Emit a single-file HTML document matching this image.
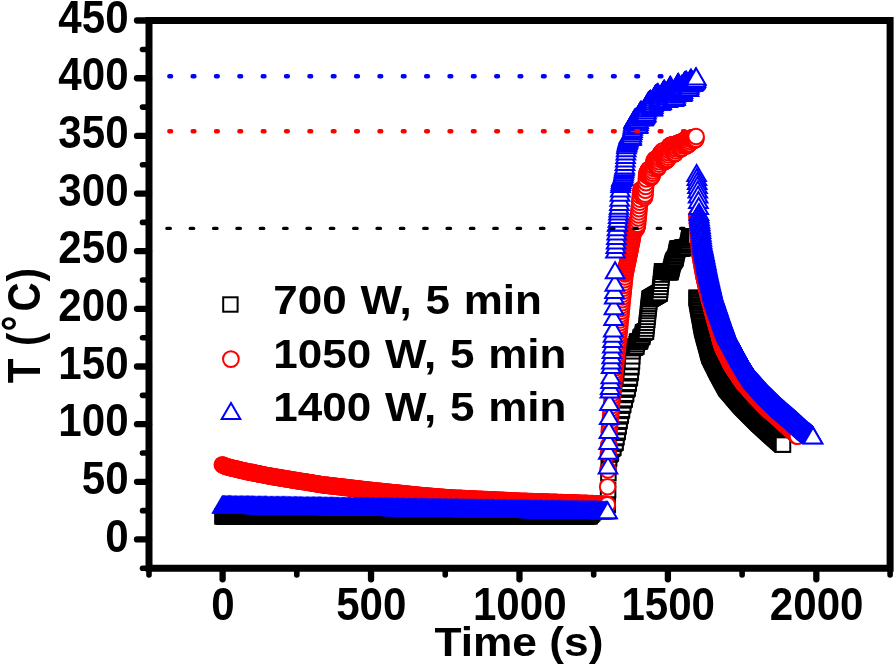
<!DOCTYPE html>
<html lang="en"><head><meta charset="utf-8"><title>Temperature vs Time</title>
<style>html,body{margin:0;padding:0;background:#fff;}body{width:896px;height:668px;overflow:hidden;}svg{display:block;}text{font-family:"Liberation Sans",Arial,Helvetica,sans-serif;font-weight:bold;fill:#000;}</style></head><body>
<svg width="896" height="668" viewBox="0 0 896 668">
<rect x="0" y="0" width="896" height="668" fill="#fff"/>
<defs>
<marker id="ms" markerUnits="userSpaceOnUse" markerWidth="20" markerHeight="20" refX="10" refY="10" overflow="visible"><rect x="2.75" y="2.75" width="14.5" height="14.5" fill="#fff" stroke="#000" stroke-width="2"/></marker>
<marker id="mc" markerUnits="userSpaceOnUse" markerWidth="20" markerHeight="20" refX="10" refY="10" overflow="visible"><circle cx="10" cy="10" r="7.8" fill="#fff" stroke="#f00" stroke-width="2"/></marker>
<marker id="mt" markerUnits="userSpaceOnUse" markerWidth="24" markerHeight="24" refX="12" refY="12" overflow="visible"><path d="M12 4 L21.3 20 L2.7 20 Z" fill="#fff" stroke="#00f" stroke-width="2" stroke-linejoin="miter"/></marker>
</defs>
<polyline points="222.4,516.4 223.6,516.4 224.8,516.4 226.0,516.4 227.2,516.4 228.4,516.4 229.6,516.4 230.8,516.4 232.0,516.4 233.2,516.4 234.4,516.4 235.6,516.4 236.8,516.4 238.0,516.4 239.2,516.4 240.4,516.4 241.6,516.4 242.8,516.4 244.0,516.4 245.2,516.4 246.4,516.4 247.6,516.4 248.8,516.4 250.0,516.4 251.2,516.4 252.4,516.4 253.6,516.4 254.8,516.4 256.0,516.4 257.2,516.4 258.4,516.4 259.6,516.4 260.8,516.4 262.0,516.4 263.2,516.4 264.4,516.4 265.6,516.4 266.8,516.4 268.0,516.4 269.2,516.4 270.4,516.4 271.6,516.4 272.8,516.4 274.0,516.4 275.2,516.4 276.4,516.4 277.6,516.4 278.8,516.4 280.0,516.4 281.2,516.4 282.4,516.4 283.6,516.4 284.8,516.4 286.0,516.4 287.2,516.4 288.4,516.4 289.6,516.4 290.8,516.4 292.0,516.4 293.2,516.4 294.4,516.4 295.6,516.4 296.8,516.4 298.0,516.4 299.2,516.4 300.4,516.4 301.6,516.4 302.8,516.4 304.0,516.4 305.2,516.4 306.4,516.4 307.6,516.4 308.8,516.4 310.0,516.4 311.2,516.4 312.4,516.4 313.6,516.4 314.8,516.4 316.0,516.4 317.2,516.4 318.4,516.4 319.6,516.4 320.8,516.4 322.0,516.4 323.2,516.4 324.4,516.4 325.6,516.4 326.8,516.4 328.0,516.4 329.2,516.4 330.4,516.4 331.6,516.4 332.8,516.4 334.0,516.4 335.2,516.4 336.4,516.4 337.6,516.4 338.8,516.4 340.0,516.4 341.2,516.4 342.4,516.4 343.6,516.4 344.8,516.4 346.0,516.4 347.2,516.4 348.4,516.4 349.6,516.4 350.8,516.4 352.0,516.4 353.2,516.4 354.4,516.4 355.6,516.4 356.8,516.4 358.0,516.4 359.2,516.4 360.4,516.4 361.6,516.4 362.8,516.4 364.0,516.4 365.2,516.4 366.4,516.4 367.6,516.4 368.8,516.4 370.0,516.4 371.2,516.4 372.4,516.4 373.6,516.4 374.8,516.4 376.0,516.4 377.2,516.4 378.4,516.4 379.6,516.4 380.8,516.4 382.0,516.4 383.2,516.4 384.4,516.4 385.6,516.4 386.8,516.4 388.0,516.4 389.2,516.4 390.4,516.4 391.6,516.4 392.8,516.4 394.0,516.4 395.2,516.4 396.4,516.4 397.6,516.4 398.8,516.4 400.0,516.4 401.2,516.4 402.4,516.4 403.6,516.4 404.8,516.4 406.0,516.4 407.2,516.4 408.4,516.4 409.6,516.4 410.8,516.4 412.0,516.4 413.2,516.4 414.5,516.4 415.7,516.4 416.9,516.4 418.1,516.4 419.3,516.4 420.5,516.4 421.7,516.4 422.9,516.4 424.1,516.4 425.3,516.4 426.5,516.4 427.7,516.4 428.9,516.4 430.1,516.4 431.3,516.4 432.5,516.4 433.7,516.4 434.9,516.4 436.1,516.4 437.3,516.4 438.5,516.4 439.7,516.4 440.9,516.4 442.1,516.4 443.3,516.4 444.5,516.4 445.7,516.4 446.9,516.4 448.1,516.4 449.3,516.4 450.5,516.4 451.7,516.4 452.9,516.4 454.1,516.4 455.3,516.4 456.5,516.4 457.7,516.4 458.9,516.4 460.1,516.4 461.3,516.4 462.5,516.4 463.7,516.4 464.9,516.4 466.1,516.4 467.3,516.4 468.5,516.4 469.7,516.4 470.9,516.4 472.1,516.4 473.3,516.4 474.5,516.4 475.7,516.4 476.9,516.4 478.1,516.4 479.3,516.4 480.5,516.4 481.7,516.4 482.9,516.4 484.1,516.4 485.3,516.4 486.5,516.4 487.7,516.4 488.9,516.4 490.1,516.4 491.3,516.4 492.5,516.4 493.7,516.4 494.9,516.4 496.1,516.4 497.3,516.4 498.5,516.4 499.7,516.4 500.9,516.4 502.1,516.4 503.3,516.4 504.5,516.4 505.7,516.4 506.9,516.4 508.1,516.4 509.3,516.4 510.5,516.4 511.7,516.4 512.9,516.4 514.1,516.4 515.3,516.4 516.5,516.4 517.7,516.4 518.9,516.4 520.1,516.4 521.3,516.4 522.5,516.4 523.7,516.4 524.9,516.4 526.1,516.4 527.3,516.4 528.5,516.4 529.7,516.4 530.9,516.4 532.1,516.4 533.3,516.4 534.5,516.4 535.7,516.4 536.9,516.4 538.1,516.4 539.3,516.4 540.5,516.4 541.7,516.4 542.9,516.4 544.1,516.4 545.3,516.4 546.5,516.4 547.7,516.4 548.9,516.4 550.1,516.4 551.3,516.4 552.5,516.4 553.7,516.4 554.9,516.4 556.1,516.4 557.3,516.4 558.5,516.4 559.7,516.4 560.9,516.4 562.1,516.4 563.3,516.4 564.5,516.4 565.7,516.4 566.9,516.4 568.1,516.4 569.3,516.4 570.5,516.4 571.7,516.4 572.9,516.4 574.1,516.4 575.3,516.4 576.5,516.4 577.7,516.4 578.9,516.4 580.1,516.4 581.3,516.4 582.5,516.4 583.7,516.4 584.9,516.4 586.1,516.4 587.3,516.4 588.5,516.4 589.7,516.2 590.9,514.8 592.1,513.5 593.3,512.1 594.5,510.8 595.7,510.8 596.9,510.7 598.1,510.7 599.3,510.7 600.5,510.7 601.7,510.6 602.9,510.6 604.1,510.6 605.3,510.5 606.5,510.5 607.8,505.0 608.1,490.0 608.4,473.0 608.8,458.7 609.1,458.4 609.4,454.4 609.7,454.1 610.0,453.9 610.3,453.6 610.6,453.3 610.9,453.1 611.2,449.0 611.5,448.7 611.8,448.5 612.1,448.3 612.4,448.1 612.7,447.9 613.0,447.7 613.3,447.5 613.7,443.5 614.0,443.3 614.3,443.1 614.6,442.9 614.9,442.7 615.2,442.5 615.5,442.3 615.8,438.0 616.1,437.5 616.4,437.0 616.8,432.8 617.1,432.3 617.4,431.8 617.7,431.3 618.0,427.0 618.3,426.5 618.6,426.0 618.9,421.7 619.2,421.2 619.6,420.7 619.9,416.4 620.2,415.9 620.5,415.4 620.8,415.0 621.1,410.9 621.4,410.5 621.7,410.1 622.0,409.8 622.3,405.6 622.6,405.2 622.9,404.9 623.2,404.5 623.5,400.3 623.8,400.0 624.1,399.7 624.4,399.4 624.7,399.1 625.0,395.0 625.2,394.7 625.5,394.3 625.8,394.0 626.1,393.7 626.4,389.6 626.7,389.3 627.0,389.0 627.3,388.6 627.6,388.2 627.9,384.0 628.2,383.6 628.5,383.2 628.7,382.8 629.0,378.7 629.3,378.3 629.6,377.9 629.9,377.5 630.2,373.3 630.5,372.6 630.8,371.8 631.1,367.3 631.4,366.5 631.7,362.0 632.0,361.3 632.3,356.3 632.5,351.3 632.8,348.0 633.1,347.9 633.4,347.8 633.7,347.6 634.0,347.5 634.3,347.4 634.5,347.2 634.8,347.1 635.1,347.0 635.4,346.9 635.7,346.8 636.0,346.6 636.3,346.5 636.6,344.2 637.0,342.0 637.3,341.9 637.6,341.8 637.9,341.7 638.2,341.6 638.5,341.5 638.8,341.4 639.1,341.3 639.4,341.2 639.7,341.1 640.0,341.0 640.3,339.8 640.5,338.7 640.8,337.5 641.1,337.3 641.4,337.1 641.7,336.9 642.0,336.7 642.3,336.5 642.6,334.5 643.0,332.5 643.3,332.4 643.6,332.3 643.9,332.2 644.2,332.1 644.5,332.0 644.8,331.9 645.1,331.8 645.4,331.7 645.7,331.6 646.0,331.5 646.3,328.6 646.6,325.6 646.9,322.7 647.3,319.8 647.6,316.9 647.9,313.9 648.2,311.0 648.5,308.6 648.8,306.2 649.0,303.8 649.3,301.4 649.6,299.0 649.9,298.8 650.2,298.6 650.5,298.5 650.8,298.3 651.1,298.1 651.4,297.9 651.7,297.8 652.0,297.6 652.3,297.4 652.6,297.2 652.9,297.1 653.2,296.9 653.5,296.7 653.8,296.5 654.1,296.4 654.4,296.2 654.7,296.0 655.0,295.8 655.3,295.6 655.6,295.5 655.9,295.3 656.2,295.1 656.5,294.9 656.8,294.8 657.1,294.6 657.4,294.4 657.7,294.2 658.0,294.1 658.3,293.9 658.6,293.7 658.9,293.5 659.2,293.4 659.5,293.2 659.8,293.0 660.1,289.9 660.4,286.9 660.7,283.8 661.1,280.7 661.4,277.6 661.7,274.6 662.0,271.5 662.3,271.5 662.6,271.5 662.9,271.6 663.2,271.6 663.5,271.6 663.8,271.6 664.1,271.6 664.4,271.6 664.7,271.7 665.0,271.7 665.3,271.7 665.6,271.7 665.9,271.7 666.2,271.8 666.5,271.8 666.8,271.8 667.1,271.8 667.4,271.8 667.7,271.8 668.0,271.9 668.3,271.9 668.6,271.9 668.9,271.9 669.2,271.9 669.5,271.9 669.8,272.0 670.1,272.0 670.4,272.0 670.7,270.9 671.0,269.8 671.3,268.7 671.6,267.6 671.8,266.4 672.1,265.3 672.4,264.2 672.7,263.1 673.0,262.0 673.3,261.5 673.6,261.0 673.9,260.5 674.2,260.0 674.6,259.5 674.9,259.0 675.2,258.5 675.5,258.0 675.8,256.5 676.1,255.0 676.4,253.5 676.7,252.0 677.0,250.5 677.3,249.0 677.6,248.9 677.9,248.9 678.2,248.8 678.5,248.8 678.8,248.7 679.1,248.6 679.4,248.6 679.7,248.5 680.0,248.5 680.3,248.4 680.6,248.4 680.9,248.3 681.2,248.2 681.5,248.2 681.8,248.1 682.1,248.1 682.4,248.0 682.7,247.9 683.0,247.9 683.3,247.8 683.6,247.8 683.9,247.7 684.2,247.6 684.5,247.6 684.8,247.5 685.1,247.5 685.4,247.4 685.7,247.4 686.0,247.3 686.3,247.2 686.6,247.2 686.9,247.1 687.2,247.1 687.5,247.0 687.8,245.3 688.1,243.7 688.5,242.0 688.8,240.3 689.1,238.7 689.4,237.0 689.7,237.0 690.0,237.0 690.3,236.9 690.6,236.9 690.9,236.9 691.2,236.9 691.5,236.8 691.8,236.8 692.1,236.8 692.4,236.8 692.7,236.7 693.0,236.7 693.3,236.7 693.6,236.7 693.9,236.6 694.2,236.6 694.5,236.6 694.8,236.6 695.1,236.5 695.4,236.5 695.7,236.5 696.5,297.6 696.8,299.2 697.1,300.8 697.4,302.4 697.7,304.0 697.9,305.6 698.2,307.2 698.5,308.8 698.8,310.4 699.1,312.0 699.4,313.6 699.7,315.2 700.0,316.8 700.3,318.4 700.6,320.0 700.8,321.6 701.1,323.2 701.4,324.8 701.7,326.4 702.0,328.0 702.3,329.1 702.6,330.2 702.9,331.2 703.2,332.3 703.5,333.4 703.8,334.5 704.0,335.6 704.3,336.6 704.6,337.7 704.9,338.8 705.2,339.9 705.5,341.0 705.8,342.0 706.1,343.1 706.4,344.2 706.7,345.3 707.0,346.4 707.3,347.4 707.5,348.5 707.8,349.6 708.1,350.7 708.4,351.8 708.7,352.8 709.0,353.9 709.3,355.0 709.6,355.6 709.9,356.2 710.2,356.8 710.5,357.4 710.8,357.9 711.1,358.5 711.3,359.1 711.6,359.7 711.9,360.3 712.2,360.9 712.5,361.5 712.8,362.1 713.1,362.7 713.4,363.2 713.7,363.8 714.0,364.4 714.3,365.0 714.6,365.6 714.9,366.2 715.2,366.8 715.5,367.4 715.7,368.0 716.0,368.6 716.3,369.1 716.6,369.7 716.9,370.3 717.2,370.9 717.5,371.5 717.8,372.1 718.1,372.6 718.4,373.1 718.7,373.7 719.0,374.2 719.3,374.8 719.6,375.4 719.9,375.9 720.2,376.4 720.5,377.0 720.8,377.6 721.1,378.1 721.4,378.6 721.7,379.2 722.0,379.8 722.3,380.3 722.6,380.9 722.9,381.4 723.2,381.9 723.5,382.5 723.8,383.1 724.1,383.6 724.4,384.1 724.7,384.7 725.0,385.2 725.3,385.8 725.6,386.4 725.9,386.9 726.2,387.4 726.5,388.0 726.8,388.3 727.1,388.7 727.4,389.0 727.7,389.4 728.0,389.7 728.3,390.1 728.6,390.4 728.9,390.8 729.2,391.1 729.5,391.5 729.8,391.8 730.1,392.2 730.4,392.5 730.7,392.8 731.0,393.2 731.3,393.5 731.6,393.9 731.9,394.2 732.2,394.6 732.5,394.9 732.8,395.3 733.1,395.6 733.4,396.0 733.7,396.3 734.0,396.7 734.2,397.0 734.5,397.3 734.8,397.7 735.1,398.0 735.4,398.4 735.7,398.7 736.0,399.1 736.3,399.4 736.6,399.8 736.9,400.1 737.2,400.5 737.5,400.8 737.8,401.2 738.1,401.5 738.4,401.8 738.7,402.2 739.0,402.5 739.3,402.9 739.6,403.2 739.9,403.6 740.2,403.9 740.5,404.3 740.8,404.6 741.1,405.0 741.4,405.3 741.7,405.7 742.0,406.0 742.3,406.3 742.6,406.6 742.9,406.9 743.2,407.2 743.5,407.5 743.8,407.8 744.1,408.1 744.4,408.4 744.7,408.7 745.0,409.0 745.3,409.3 745.6,409.6 745.9,409.9 746.2,410.2 746.5,410.5 746.8,410.8 747.1,411.1 747.4,411.4 747.7,411.7 748.0,412.0 748.3,412.3 748.6,412.6 748.9,412.9 749.2,413.2 749.5,413.5 749.8,413.8 750.1,414.1 750.4,414.4 750.6,414.6 750.9,414.9 751.2,415.2 751.5,415.5 751.8,415.8 752.1,416.1 752.4,416.4 752.7,416.7 753.0,417.0 753.3,417.3 753.6,417.6 753.9,417.9 754.2,418.2 754.5,418.5 754.8,418.8 755.1,419.1 755.4,419.4 755.7,419.7 756.0,420.0 756.3,420.3 756.6,420.6 756.9,420.9 757.2,421.2 757.5,421.5 757.8,421.8 758.1,422.1 758.4,422.4 758.7,422.7 759.0,423.0 759.3,423.3 759.6,423.6 759.9,423.8 760.2,424.1 760.5,424.4 760.8,424.6 761.1,424.9 761.4,425.2 761.7,425.5 762.0,425.8 762.3,426.0 762.6,426.3 762.9,426.6 763.2,426.9 763.5,427.1 763.8,427.4 764.1,427.7 764.4,427.9 764.7,428.2 765.0,428.5 765.3,428.8 765.6,429.1 765.9,429.3 766.2,429.6 766.5,429.9 766.8,430.1 767.1,430.4 767.4,430.7 767.7,431.0 768.0,431.2 768.3,431.5 768.6,431.8 768.9,432.1 769.2,432.4 769.5,432.6 769.8,432.9 770.1,433.2 770.4,433.4 770.7,433.7 771.0,434.0 771.3,434.3 771.6,434.5 771.9,434.8 772.2,435.1 772.5,435.3 772.8,435.6 773.1,435.9 773.4,436.1 773.7,436.4 774.0,436.6 774.3,436.9 774.6,437.2 774.9,437.4 775.2,437.7 775.5,438.0 775.8,438.2 776.1,438.5 776.4,438.8 776.7,439.0 777.0,439.3 777.3,439.6 777.6,439.8 777.9,440.1 778.2,440.4 778.5,440.6 778.8,440.9 779.1,441.2 779.4,441.4 779.7,441.7 780.0,442.0 780.3,442.2 780.6,442.5 780.9,442.7 781.2,443.0 781.5,443.3 781.8,443.5 782.1,443.8 782.4,444.1 782.7,444.3 783.0,444.6" fill="none" stroke="none" marker-start="url(#ms)" marker-mid="url(#ms)" marker-end="url(#ms)"/>
<polyline points="222.3,464.8 223.5,465.4 224.7,465.9 225.9,466.5 227.1,466.8 228.3,467.1 229.5,467.4 230.7,467.7 231.9,468.0 233.1,468.3 234.3,468.6 235.5,468.8 236.7,469.1 237.9,469.4 239.1,469.7 240.3,470.0 241.5,470.3 242.7,470.6 243.9,470.8 245.1,471.1 246.3,471.4 247.5,471.7 248.7,471.9 250.0,472.2 251.2,472.4 252.4,472.6 253.6,472.9 254.8,473.1 256.0,473.3 257.2,473.6 258.4,473.8 259.6,474.1 260.8,474.3 262.0,474.5 263.2,474.8 264.4,475.0 265.6,475.2 266.8,475.5 268.0,475.7 269.2,475.9 270.4,476.2 271.6,476.4 272.8,476.6 274.0,476.8 275.2,477.0 276.4,477.2 277.6,477.4 278.8,477.6 280.0,477.8 281.2,478.0 282.4,478.2 283.6,478.4 284.8,478.6 286.0,478.8 287.2,479.0 288.4,479.2 289.6,479.4 290.8,479.6 292.0,479.8 293.2,480.0 294.4,480.2 295.6,480.4 296.8,480.6 298.0,480.8 299.2,481.0 300.4,481.2 301.6,481.4 302.8,481.5 304.0,481.7 305.3,481.9 306.5,482.1 307.7,482.3 308.9,482.5 310.1,482.7 311.3,482.9 312.5,483.1 313.7,483.3 314.9,483.5 316.1,483.7 317.3,483.9 318.5,484.1 319.7,484.3 320.9,484.5 322.1,484.7 323.3,484.9 324.5,485.0 325.7,485.1 326.9,485.3 328.1,485.4 329.3,485.6 330.5,485.7 331.7,485.8 332.9,486.0 334.1,486.1 335.3,486.3 336.5,486.4 337.7,486.5 338.9,486.7 340.1,486.8 341.3,486.9 342.5,487.1 343.7,487.2 344.9,487.4 346.1,487.5 347.3,487.6 348.5,487.8 349.7,487.9 350.9,488.1 352.1,488.2 353.3,488.3 354.5,488.5 355.7,488.6 356.9,488.8 358.1,488.9 359.3,489.0 360.6,489.2 361.8,489.3 363.0,489.5 364.2,489.6 365.4,489.7 366.6,489.9 367.8,490.0 369.0,490.2 370.2,490.3 371.4,490.4 372.6,490.6 373.8,490.7 375.0,490.8 376.2,490.9 377.4,491.1 378.6,491.2 379.8,491.3 381.0,491.4 382.2,491.5 383.4,491.7 384.6,491.8 385.8,491.9 387.0,492.0 388.2,492.2 389.4,492.3 390.6,492.4 391.8,492.5 393.0,492.7 394.2,492.8 395.4,492.9 396.6,493.0 397.8,493.1 399.0,493.3 400.2,493.4 401.4,493.5 402.6,493.6 403.8,493.8 405.0,493.9 406.2,494.0 407.4,494.1 408.6,494.2 409.8,494.4 411.0,494.5 412.2,494.6 413.4,494.7 414.6,494.9 415.9,495.0 417.1,495.1 418.3,495.2 419.5,495.3 420.7,495.5 421.9,495.6 423.1,495.7 424.3,495.8 425.5,495.9 426.7,496.0 427.9,496.1 429.1,496.2 430.3,496.3 431.5,496.4 432.7,496.5 433.9,496.6 435.1,496.7 436.3,496.8 437.5,496.9 438.7,497.0 439.9,497.1 441.1,497.2 442.3,497.3 443.5,497.4 444.7,497.5 445.9,497.6 447.1,497.7 448.3,497.8 449.5,497.9 450.7,497.9 451.9,498.0 453.1,498.0 454.3,498.1 455.5,498.2 456.7,498.2 457.9,498.3 459.1,498.3 460.3,498.4 461.5,498.4 462.7,498.5 463.9,498.6 465.1,498.6 466.3,498.7 467.5,498.7 468.7,498.8 470.0,498.8 471.2,498.9 472.4,499.0 473.6,499.0 474.8,499.1 476.0,499.1 477.2,499.2 478.4,499.2 479.6,499.3 480.8,499.3 482.0,499.4 483.2,499.5 484.4,499.5 485.6,499.6 486.8,499.6 488.0,499.7 489.2,499.7 490.4,499.8 491.6,499.9 492.8,499.9 494.0,500.0 495.2,500.0 496.4,500.1 497.6,500.1 498.8,500.2 500.0,500.3 501.2,500.3 502.4,500.4 503.6,500.4 504.8,500.5 506.0,500.5 507.2,500.6 508.4,500.7 509.6,500.7 510.8,500.8 512.0,500.8 513.2,500.9 514.4,500.9 515.6,501.0 516.8,501.1 518.0,501.1 519.2,501.2 520.4,501.2 521.6,501.3 522.8,501.3 524.0,501.3 525.3,501.4 526.5,501.4 527.7,501.5 528.9,501.5 530.1,501.5 531.3,501.6 532.5,501.6 533.7,501.7 534.9,501.7 536.1,501.7 537.3,501.8 538.5,501.8 539.7,501.9 540.9,501.9 542.1,501.9 543.3,502.0 544.5,502.0 545.7,502.1 546.9,502.1 548.1,502.1 549.3,502.2 550.5,502.2 551.7,502.3 552.9,502.3 554.1,502.3 555.3,502.4 556.5,502.4 557.7,502.5 558.9,502.5 560.1,502.5 561.3,502.6 562.5,502.6 563.7,502.7 564.9,502.7 566.1,502.7 567.3,502.8 568.5,502.8 569.7,502.9 570.9,502.9 572.1,502.9 573.3,503.0 574.5,503.0 575.7,503.1 576.9,503.1 578.1,503.1 579.3,503.2 580.6,503.2 581.8,503.3 583.0,503.3 584.2,503.3 585.4,503.4 586.6,503.4 587.8,503.5 589.0,503.5 590.2,503.5 591.4,503.6 592.6,503.6 593.8,503.7 595.0,503.7 596.2,503.7 597.4,503.8 598.6,503.8 599.8,503.9 601.0,504.0 602.2,504.1 603.4,504.2 604.6,504.2 605.8,504.3 607.0,504.4 607.3,504.7 607.6,486.7 608.0,470.0 608.4,454.0 608.8,445.0 609.2,432.0 609.5,428.0 609.8,424.8 610.1,421.7 610.4,418.5 610.7,415.3 611.0,412.2 611.2,409.0 611.5,405.8 611.8,402.7 612.1,399.5 612.4,396.3 612.7,393.2 613.0,390.0 613.3,387.2 613.6,384.4 613.9,381.7 614.2,378.9 614.5,376.1 614.8,373.3 615.1,370.6 615.4,367.8 615.6,365.0 615.9,362.2 616.2,359.4 616.5,356.7 616.8,353.9 617.1,351.1 617.4,348.3 617.7,345.6 618.0,342.8 618.3,340.0 618.6,337.1 618.9,334.3 619.2,331.4 619.5,328.5 619.8,325.7 620.1,322.8 620.4,319.9 620.7,317.0 621.0,314.2 621.3,311.3 621.6,308.4 621.8,305.6 622.1,302.7 622.4,299.8 622.7,297.0 623.0,294.1 623.3,291.2 623.6,288.3 623.9,285.5 624.2,282.6 624.5,279.7 624.8,276.9 625.1,274.0 625.4,272.5 625.7,271.0 626.0,269.6 626.3,268.1 626.6,266.6 626.9,265.1 627.2,263.7 627.5,262.2 627.8,260.7 628.1,259.2 628.4,257.7 628.7,256.3 629.0,254.8 629.3,253.3 629.6,251.8 629.9,250.3 630.2,248.9 630.5,247.4 630.8,245.9 631.1,244.4 631.4,243.0 631.7,241.5 632.0,240.0 632.0,238.6 632.3,237.2 632.6,235.9 632.9,234.6 633.2,233.3 633.5,232.0 633.8,230.6 634.1,229.3 634.4,228.0 634.7,226.1 635.0,223.8 635.3,225.1 635.6,226.3 635.9,227.3 636.2,228.2 636.5,228.9 636.8,227.7 637.0,226.5 637.3,225.3 637.6,224.2 637.9,221.1 638.2,218.0 638.5,215.0 638.8,211.9 639.1,208.7 639.4,205.5 639.7,202.3 640.0,199.1 640.3,195.9 640.6,192.7 640.9,189.5 641.2,190.3 641.5,191.1 641.8,191.9 642.1,192.7 642.4,193.5 642.7,194.3 643.0,195.1 643.3,195.9 643.6,196.7 643.9,197.3 644.2,197.5 644.5,197.6 644.8,195.9 645.1,194.1 645.4,190.3 645.7,186.5 646.0,182.8 646.3,179.0 646.6,175.2 646.9,173.3 647.1,172.8 647.4,172.2 647.7,171.6 648.0,171.1 648.3,170.5 648.6,169.9 648.9,169.3 649.2,170.9 649.5,172.5 649.8,174.1 650.1,175.7 650.4,177.2 650.7,177.8 651.0,177.4 651.3,177.0 651.6,176.5 651.9,176.1 652.2,175.7 652.5,173.3 652.8,170.9 653.1,168.4 653.4,166.0 653.7,163.6 654.0,161.2 654.3,160.4 654.6,160.1 654.9,159.7 655.2,159.3 655.5,158.9 655.8,160.5 656.1,162.1 656.4,163.7 656.7,165.2 656.9,166.8 657.2,168.4 657.5,168.2 657.8,167.8 658.1,167.3 658.4,166.9 658.7,166.5 659.0,164.1 659.3,161.7 659.6,159.3 659.9,157.1 660.2,154.9 660.5,153.7 660.8,153.4 661.1,153.0 661.4,152.6 661.7,152.3 662.0,151.9 662.3,151.6 662.6,151.2 662.9,150.8 663.2,152.6 663.5,154.4 663.8,156.2 664.1,157.9 664.4,159.7 664.7,161.5 665.0,161.4 665.3,161.1 665.6,160.9 665.9,160.7 666.2,160.5 666.5,160.2 666.7,160.0 667.0,159.8 667.3,159.6 667.6,159.3 667.9,157.1 668.2,154.9 668.5,152.7 668.8,150.4 669.1,148.2 669.4,146.0 669.7,145.9 670.0,145.8 670.3,145.6 670.6,145.5 670.9,145.4 671.2,145.2 671.5,145.1 671.8,145.0 672.1,144.9 672.4,144.7 672.7,146.5 673.0,148.3 673.3,150.0 673.6,151.8 673.9,153.6 674.2,154.0 674.5,153.8 674.8,153.6 675.1,153.3 675.4,153.1 675.7,150.9 676.0,148.7 676.3,146.5 676.6,144.3 676.8,143.8 677.1,143.7 677.4,143.5 677.7,143.4 678.0,143.3 678.3,143.1 678.6,143.0 678.9,142.8 679.2,142.7 679.5,144.5 679.8,146.3 680.1,148.1 680.4,149.1 680.7,148.9 681.0,148.7 681.3,148.5 681.6,148.3 681.9,148.1 682.2,147.9 682.5,145.7 682.8,143.5 683.1,141.3 683.4,140.7 683.7,140.6 684.0,140.5 684.3,140.4 684.6,140.3 684.9,140.2 685.2,142.0 685.5,143.8 685.8,145.6 686.1,146.0 686.4,145.8 686.6,145.6 686.9,145.4 687.2,145.2 687.5,145.0 687.8,144.8 688.1,144.6 688.4,144.4 688.7,144.1 689.0,143.9 689.3,143.7 689.6,141.5 689.9,139.3 690.2,138.5 690.5,138.4 690.8,138.3 691.1,138.2 691.4,138.1 691.7,138.0 692.0,137.9 692.3,137.8 692.6,137.7 692.9,137.6 693.2,137.6 693.5,137.5 693.8,139.2 694.1,140.4 694.4,140.1 694.7,139.9 695.0,139.7 695.3,139.5 695.6,139.3 695.9,139.1 696.1,136.5 696.8,216.0 697.1,220.0 697.4,224.0 697.7,228.0 698.0,232.0 698.3,236.0 698.6,240.0 698.9,244.0 699.2,248.0 699.5,252.0 699.8,253.7 700.1,255.3 700.4,257.0 700.7,258.7 701.0,260.3 701.3,262.0 701.6,263.7 701.9,265.3 702.2,267.0 702.5,268.7 702.8,270.3 703.1,272.0 703.4,273.7 703.7,275.3 704.0,277.0 704.3,278.3 704.6,279.5 704.9,280.8 705.2,282.1 705.5,283.3 705.8,284.6 706.1,285.9 706.4,287.1 706.6,288.4 706.9,289.6 707.2,290.9 707.5,292.2 707.8,293.4 708.1,294.7 708.4,296.0 708.7,297.2 709.0,298.5 709.3,299.6 709.6,300.7 709.9,301.8 710.2,302.8 710.5,303.9 710.8,305.0 711.1,306.1 711.4,307.2 711.7,308.3 712.0,309.4 712.3,310.5 712.5,311.5 712.8,312.6 713.1,313.7 713.4,314.8 713.7,315.9 714.0,317.0 714.3,318.1 714.6,319.2 714.9,320.2 715.2,321.3 715.5,322.4 715.8,323.5 716.1,324.6 716.4,325.6 716.7,326.7 717.0,327.7 717.3,328.8 717.6,329.9 717.9,330.9 718.2,332.0 718.5,333.0 718.8,334.1 719.0,335.1 719.3,336.2 719.6,337.3 719.9,338.3 720.2,339.4 720.5,340.4 720.8,341.5 721.1,342.6 721.4,343.6 721.7,344.7 722.0,345.7 722.3,346.8 722.6,347.4 722.9,348.0 723.2,348.6 723.5,349.2 723.8,349.8 724.1,350.4 724.4,351.0 724.6,351.6 724.9,352.2 725.2,352.8 725.5,353.4 725.8,354.0 726.1,354.6 726.4,355.2 726.7,355.8 727.0,356.3 727.3,356.9 727.6,357.5 727.9,358.1 728.2,358.7 728.5,359.3 728.8,359.9 729.1,360.5 729.3,361.1 729.6,361.7 729.9,362.3 730.2,362.9 730.5,363.5 730.8,364.1 731.1,364.7 731.4,365.3 731.7,365.8 732.0,366.2 732.3,366.7 732.6,367.1 732.9,367.6 733.2,368.0 733.5,368.5 733.8,368.9 734.1,369.4 734.4,369.8 734.7,370.3 735.0,370.7 735.3,371.2 735.6,371.6 735.9,372.1 736.2,372.5 736.5,373.0 736.8,373.4 737.1,373.9 737.4,374.3 737.7,374.8 738.0,375.2 738.3,375.7 738.6,376.1 738.9,376.6 739.2,377.0 739.5,377.5 739.8,377.9 740.1,378.4 740.4,378.8 740.7,379.3 741.0,379.7 741.3,380.2 741.6,380.6 741.9,381.1 742.2,381.5 742.5,382.0 742.8,382.3 743.1,382.7 743.4,383.0 743.7,383.4 744.0,383.7 744.3,384.0 744.6,384.4 744.9,384.7 745.2,385.0 745.5,385.4 745.8,385.7 746.1,386.1 746.4,386.4 746.7,386.7 747.0,387.1 747.3,387.4 747.6,387.8 747.9,388.1 748.2,388.4 748.5,388.8 748.8,389.1 749.0,389.4 749.3,389.8 749.6,390.1 749.9,390.5 750.2,390.8 750.5,391.1 750.8,391.5 751.1,391.8 751.4,392.2 751.7,392.5 752.0,392.8 752.3,393.2 752.6,393.5 752.9,393.9 753.2,394.2 753.5,394.5 753.8,394.9 754.1,395.2 754.4,395.5 754.7,395.9 755.0,396.2 755.3,396.6 755.6,396.9 755.9,397.2 756.2,397.5 756.5,397.8 756.8,398.1 757.1,398.4 757.4,398.7 757.7,399.0 758.0,399.3 758.3,399.6 758.6,399.9 758.9,400.2 759.2,400.5 759.5,400.8 759.8,401.1 760.1,401.4 760.4,401.7 760.7,402.0 761.0,402.3 761.3,402.6 761.6,402.9 761.9,403.2 762.2,403.5 762.5,403.9 762.8,404.2 763.1,404.5 763.4,404.8 763.7,405.1 764.0,405.4 764.3,405.7 764.6,406.0 764.9,406.3 765.2,406.6 765.5,406.9 765.8,407.2 766.1,407.5 766.4,407.8 766.7,408.1 767.0,408.4 767.3,408.7 767.6,409.0 767.9,409.3 768.2,409.6 768.5,409.9 768.8,410.2 769.1,410.5 769.4,410.7 769.7,411.0 770.0,411.2 770.3,411.5 770.6,411.7 770.9,412.0 771.2,412.3 771.5,412.5 771.8,412.8 772.1,413.0 772.4,413.3 772.7,413.5 773.0,413.8 773.3,414.0 773.6,414.3 773.9,414.6 774.2,414.8 774.5,415.1 774.8,415.3 775.1,415.6 775.4,415.8 775.6,416.1 775.9,416.4 776.2,416.6 776.5,416.9 776.8,417.1 777.1,417.4 777.4,417.6 777.7,417.9 778.0,418.2 778.3,418.4 778.6,418.7 778.9,418.9 779.2,419.2 779.5,419.4 779.8,419.7 780.1,419.9 780.4,420.2 780.7,420.5 781.0,420.7 781.3,421.0 781.6,421.2 781.9,421.5 782.2,421.7 782.5,422.0 782.8,422.3 783.1,422.6 783.4,422.8 783.7,423.1 784.0,423.4 784.3,423.7 784.6,424.0 784.9,424.2 785.1,424.5 785.4,424.8 785.7,425.1 786.0,425.4 786.3,425.6 786.6,425.9 786.9,426.2 787.2,426.5 787.5,426.8 787.8,427.0 788.1,427.3 788.4,427.6 788.7,427.9 789.0,428.2 789.3,428.4 789.6,428.7 789.9,429.0 790.1,429.3 790.4,429.6 790.7,429.9 791.0,430.1 791.3,430.4 791.6,430.7 791.9,431.0 792.2,431.3 792.5,431.5 792.8,431.8 793.1,432.1 793.4,432.4 793.7,432.7 794.0,432.9 794.3,433.2 794.6,433.5 794.9,433.8 795.1,434.1 795.4,434.3 795.7,434.6 796.0,434.9 796.3,435.2 796.6,435.5 796.9,435.7 797.2,436.0 797.5,436.3" fill="none" stroke="none" marker-start="url(#mc)" marker-mid="url(#mc)" marker-end="url(#mc)"/>
<polyline points="222.3,504.7 223.5,504.7 224.7,504.7 225.9,504.8 227.1,504.8 228.3,504.8 229.5,504.8 230.7,504.8 231.9,504.8 233.1,504.9 234.3,504.9 235.5,504.9 236.7,504.9 237.9,504.9 239.1,504.9 240.3,505.0 241.5,505.0 242.7,505.0 243.9,505.0 245.1,505.0 246.3,505.0 247.5,505.1 248.7,505.1 249.9,505.1 251.1,505.1 252.3,505.1 253.5,505.2 254.7,505.2 255.9,505.2 257.1,505.2 258.3,505.2 259.5,505.2 260.7,505.3 261.9,505.3 263.1,505.3 264.3,505.3 265.5,505.3 266.7,505.3 267.9,505.4 269.1,505.4 270.3,505.4 271.5,505.4 272.7,505.4 273.9,505.5 275.1,505.5 276.3,505.5 277.5,505.5 278.7,505.5 279.9,505.5 281.1,505.6 282.3,505.6 283.5,505.6 284.7,505.6 285.9,505.6 287.1,505.6 288.3,505.7 289.5,505.7 290.7,505.7 291.9,505.7 293.1,505.7 294.3,505.7 295.5,505.8 296.7,505.8 297.9,505.8 299.1,505.8 300.3,505.8 301.5,505.9 302.7,505.9 303.9,505.9 305.1,505.9 306.3,505.9 307.5,505.9 308.7,506.0 309.9,506.0 311.1,506.0 312.3,506.0 313.5,506.0 314.7,506.0 315.9,506.1 317.1,506.1 318.3,506.1 319.5,506.1 320.7,506.1 321.9,506.1 323.1,506.2 324.3,506.2 325.5,506.2 326.7,506.2 327.9,506.2 329.1,506.3 330.3,506.3 331.5,506.3 332.7,506.3 333.9,506.3 335.1,506.3 336.3,506.4 337.5,506.4 338.7,506.4 339.9,506.4 341.1,506.4 342.3,506.4 343.5,506.5 344.7,506.5 345.9,506.5 347.1,506.5 348.3,506.5 349.5,506.5 350.7,506.6 351.9,506.6 353.1,506.6 354.3,506.6 355.5,506.6 356.7,506.7 357.9,506.7 359.1,506.7 360.3,506.7 361.5,506.7 362.7,506.7 363.9,506.8 365.1,506.8 366.3,506.8 367.5,506.8 368.7,506.8 369.9,506.8 371.1,506.9 372.3,506.9 373.5,506.9 374.7,506.9 375.9,506.9 377.1,507.0 378.3,507.0 379.5,507.0 380.7,507.0 381.9,507.0 383.1,507.0 384.3,507.1 385.5,507.1 386.7,507.1 387.9,507.1 389.1,507.1 390.3,507.1 391.5,507.2 392.7,507.2 393.9,507.2 395.1,507.2 396.3,507.2 397.5,507.2 398.7,507.3 399.9,507.3 401.1,507.3 402.3,507.3 403.5,507.3 404.7,507.4 405.9,507.4 407.1,507.4 408.3,507.4 409.5,507.4 410.7,507.4 411.9,507.5 413.1,507.5 414.3,507.5 415.6,507.5 416.8,507.5 418.0,507.5 419.2,507.6 420.4,507.6 421.6,507.6 422.8,507.6 424.0,507.6 425.2,507.6 426.4,507.7 427.6,507.7 428.8,507.7 430.0,507.7 431.2,507.7 432.4,507.8 433.6,507.8 434.8,507.8 436.0,507.8 437.2,507.8 438.4,507.8 439.6,507.9 440.8,507.9 442.0,507.9 443.2,507.9 444.4,507.9 445.6,507.9 446.8,508.0 448.0,508.0 449.2,508.0 450.4,508.0 451.6,508.0 452.8,508.0 454.0,508.1 455.2,508.1 456.4,508.1 457.6,508.1 458.8,508.1 460.0,508.2 461.2,508.2 462.4,508.2 463.6,508.2 464.8,508.2 466.0,508.2 467.2,508.3 468.4,508.3 469.6,508.3 470.8,508.3 472.0,508.3 473.2,508.3 474.4,508.4 475.6,508.4 476.8,508.4 478.0,508.4 479.2,508.4 480.4,508.5 481.6,508.5 482.8,508.5 484.0,508.5 485.2,508.5 486.4,508.5 487.6,508.6 488.8,508.6 490.0,508.6 491.2,508.6 492.4,508.6 493.6,508.6 494.8,508.7 496.0,508.7 497.2,508.7 498.4,508.7 499.6,508.7 500.8,508.7 502.0,508.8 503.2,508.8 504.4,508.8 505.6,508.8 506.8,508.8 508.0,508.9 509.2,508.9 510.4,508.9 511.6,508.9 512.8,508.9 514.0,508.9 515.2,509.0 516.4,509.0 517.6,509.0 518.8,509.0 520.0,509.0 521.2,509.0 522.4,509.1 523.6,509.1 524.8,509.1 526.0,509.1 527.2,509.1 528.4,509.1 529.6,509.2 530.8,509.2 532.0,509.2 533.2,509.2 534.4,509.2 535.6,509.3 536.8,509.3 538.0,509.3 539.2,509.3 540.4,509.3 541.6,509.3 542.8,509.4 544.0,509.4 545.2,509.4 546.4,509.4 547.6,509.4 548.8,509.4 550.0,509.5 551.2,509.5 552.4,509.5 553.6,509.5 554.8,509.5 556.0,509.5 557.2,509.6 558.4,509.6 559.6,509.6 560.8,509.6 562.0,509.6 563.2,509.7 564.4,509.7 565.6,509.7 566.8,509.7 568.0,509.7 569.2,509.7 570.4,509.8 571.6,509.8 572.8,509.8 574.0,509.8 575.2,509.8 576.4,509.8 577.6,509.9 578.8,509.9 580.0,509.9 581.2,509.9 582.4,509.9 583.6,510.0 584.8,510.0 586.0,510.0 587.2,510.0 588.4,510.0 589.6,510.0 590.8,510.1 592.0,510.1 593.2,510.1 594.4,510.1 595.6,510.1 596.8,510.1 598.0,510.2 599.2,510.2 600.4,510.2 601.6,510.2 602.8,510.2 604.0,510.2 605.2,510.3 606.4,510.3 607.6,510.3 608.0,465.4 608.3,450.8 608.6,441.0 608.9,430.0 609.2,416.0 609.5,402.0 609.9,389.5 610.2,386.0 610.5,380.0 610.8,375.3 611.1,365.1 611.4,360.6 611.7,355.2 612.0,349.9 612.3,344.5 612.6,339.1 613.0,333.7 613.3,328.6 613.6,316.9 613.9,306.2 614.2,295.4 614.5,290.0 614.8,282.8 615.1,270.2 615.4,249.6 615.8,245.1 616.1,240.6 616.4,236.1 616.7,231.6 617.0,227.2 617.3,222.7 617.6,222.6 617.9,218.8 618.2,215.0 618.5,211.5 618.8,208.6 619.1,205.8 619.4,202.0 619.7,197.8 620.0,192.8 620.3,188.4 620.6,184.1 620.9,182.0 621.2,180.0 621.5,178.0 621.8,177.0 622.1,176.9 622.4,176.8 622.6,176.6 622.9,176.1 623.2,174.2 623.5,172.5 623.8,170.7 624.1,169.0 624.4,167.2 624.7,165.5 625.0,162.0 625.3,158.4 625.6,154.9 625.9,151.4 626.2,148.3 626.5,145.3 626.8,143.6 627.1,142.4 627.4,141.1 627.7,139.9 628.0,138.8 628.3,137.8 628.6,136.7 628.9,135.6 629.2,134.6 629.5,135.0 629.8,135.4 630.1,135.8 630.4,136.2 630.7,136.6 631.0,137.0 631.3,136.6 631.6,135.4 631.9,133.3 632.2,131.1 632.5,129.0 632.7,126.8 633.0,124.7 633.3,122.5 633.6,120.3 633.9,119.4 634.2,118.9 634.5,118.5 634.8,118.1 635.1,117.7 635.4,117.2 635.7,118.5 636.0,119.7 636.3,121.0 636.6,122.2 636.9,123.5 637.2,124.7 637.5,125.1 637.8,124.6 638.1,124.2 638.4,122.0 638.7,119.9 639.0,117.7 639.3,115.6 639.6,113.4 639.9,111.5 640.2,111.1 640.5,110.6 640.8,110.2 641.1,109.8 641.4,111.0 641.7,112.3 642.0,113.5 642.3,114.8 642.5,116.0 642.8,117.2 643.1,117.2 643.4,116.8 643.7,116.3 644.0,115.9 644.3,115.5 644.6,115.0 644.9,114.6 645.2,114.1 645.5,113.7 645.8,113.2 646.1,112.8 646.4,110.6 646.7,108.6 647.0,106.7 647.3,104.8 647.6,102.9 647.9,101.6 648.2,101.3 648.5,101.0 648.8,100.7 649.1,100.3 649.4,100.0 649.7,99.7 650.0,99.4 650.3,99.2 650.6,98.9 650.9,100.4 651.2,101.9 651.5,103.4 651.8,104.9 652.1,106.4 652.3,107.4 652.6,107.2 652.9,107.0 653.2,105.1 653.5,103.2 653.8,101.3 654.1,99.4 654.4,97.4 654.7,95.5 655.0,94.4 655.3,94.2 655.6,94.0 655.9,93.8 656.2,93.6 656.5,93.4 656.8,93.2 657.1,92.9 657.4,92.7 657.7,92.5 658.0,92.3 658.3,93.8 658.6,95.3 658.9,96.8 659.2,98.3 659.5,99.8 659.8,101.3 660.1,101.7 660.4,101.5 660.7,101.3 661.0,101.1 661.3,101.0 661.6,100.9 661.9,99.0 662.2,97.2 662.4,95.4 662.7,93.5 663.0,91.7 663.3,89.9 663.6,89.4 663.9,89.2 664.2,89.0 664.5,88.9 664.8,90.4 665.1,92.0 665.4,93.6 665.7,95.2 666.0,96.7 666.3,98.3 666.6,98.9 666.9,98.8 667.2,98.7 667.5,98.5 667.8,98.4 668.1,96.6 668.4,94.8 668.7,92.9 669.0,91.1 669.3,89.3 669.6,87.4 669.9,85.6 670.2,85.2 670.5,85.1 670.8,86.6 671.1,88.2 671.4,89.8 671.7,91.4 672.0,92.9 672.2,94.5 672.5,96.1 672.8,97.7 673.1,97.7 673.4,97.5 673.7,97.4 674.0,97.3 674.3,97.1 674.6,97.0 674.9,96.9 675.2,96.7 675.5,96.5 675.8,94.6 676.1,92.7 676.4,90.9 676.7,89.0 677.0,87.1 677.3,85.2 677.6,83.3 677.9,82.4 678.2,82.3 678.5,82.2 678.8,83.7 679.1,85.2 679.4,86.7 679.7,88.3 680.0,89.8 680.3,91.3 680.6,92.8 680.9,93.0 681.2,92.8 681.5,92.6 681.8,92.4 682.0,92.2 682.3,92.1 682.6,91.9 682.9,90.0 683.2,88.1 683.5,86.2 683.8,84.3 684.1,82.4 684.4,80.8 684.7,80.7 685.0,80.6 685.3,80.5 685.6,80.4 685.9,80.3 686.2,80.2 686.5,80.1 686.8,81.6 687.1,83.2 687.4,84.7 687.7,86.2 688.0,87.7 688.3,88.1 688.6,87.9 688.9,87.7 689.2,85.7 689.5,83.7 689.8,81.6 690.1,79.5 690.4,78.4 690.7,78.3 691.0,78.2 691.3,78.1 691.6,79.4 691.9,80.8 692.1,82.1 692.4,82.8 692.7,82.5 693.0,82.2 693.3,81.8 693.6,81.5 693.9,81.2 694.2,80.9 694.5,80.5 694.8,80.2 695.1,79.9 695.4,77.8 695.7,76.8 696.0,76.7 695.9,78.9 696.2,76.6 696.6,173.0 696.9,177.0 697.2,181.0 697.5,185.0 697.8,189.5 698.1,194.5 698.4,200.0 698.7,206.0 699.0,212.0 699.3,214.6 699.6,217.2 699.9,219.8 700.2,222.3 700.5,224.9 700.8,227.5 701.0,230.1 701.3,232.7 701.6,235.2 701.9,237.8 702.2,240.4 702.5,243.0 702.8,244.5 703.1,246.0 703.4,247.5 703.7,249.0 704.0,250.6 704.3,252.1 704.6,253.6 704.9,255.1 705.2,256.6 705.5,258.1 705.8,259.6 706.1,261.1 706.4,262.6 706.7,264.2 707.0,265.7 707.3,267.2 707.6,268.7 707.9,270.2 708.2,271.6 708.5,272.9 708.8,274.2 709.1,275.6 709.4,276.9 709.7,278.3 710.0,279.6 710.3,281.0 710.7,282.4 711.0,283.7 711.3,285.1 711.6,286.4 711.9,287.8 712.2,289.1 712.5,290.4 712.8,291.8 713.1,292.7 713.4,293.6 713.7,294.5 714.0,295.4 714.3,296.3 714.6,297.2 714.9,298.1 715.2,299.0 715.5,299.9 715.8,300.8 716.1,301.7 716.4,302.6 716.7,303.4 717.0,304.3 717.3,305.2 717.6,306.1 717.9,307.0 718.2,307.9 718.5,308.8 718.8,309.7 719.1,310.6 719.4,311.5 719.7,312.4 720.0,313.3 720.3,314.1 720.6,315.0 720.9,315.8 721.2,316.7 721.5,317.5 721.8,318.4 722.1,319.2 722.4,320.0 722.7,320.9 723.0,321.7 723.3,322.6 723.6,323.4 723.9,324.3 724.2,325.1 724.5,325.9 724.8,326.8 725.1,327.6 725.4,328.5 725.7,329.3 726.0,330.2 726.3,331.0 726.6,331.6 726.9,332.1 727.2,332.7 727.5,333.2 727.8,333.8 728.1,334.4 728.4,334.9 728.7,335.5 729.0,336.0 729.3,336.6 729.6,337.1 729.9,337.7 730.2,338.3 730.5,338.8 730.8,339.4 731.1,339.9 731.4,340.5 731.7,341.1 732.0,341.6 732.3,342.2 732.6,342.7 732.9,343.3 733.2,343.8 733.5,344.4 733.8,344.9 734.1,345.5 734.4,346.0 734.7,346.6 735.0,347.2 735.3,347.7 735.6,348.3 735.9,348.8 736.2,349.4 736.5,349.9 736.7,350.5 737.0,351.0 737.3,351.6 737.6,352.1 737.9,352.7 738.2,353.2 738.5,353.8 738.8,354.4 739.1,354.9 739.4,355.5 739.7,356.0 740.0,356.6 740.3,357.1 740.6,357.7 740.9,358.2 741.2,358.8 741.5,359.3 741.8,359.9 742.1,360.4 742.4,360.9 742.7,361.4 743.0,361.9 743.3,362.3 743.6,362.8 743.9,363.3 744.2,363.8 744.5,364.3 744.8,364.8 745.1,365.3 745.4,365.8 745.7,366.3 746.0,366.8 746.3,367.2 746.6,367.7 746.9,368.2 747.2,368.7 747.5,369.2 747.8,369.7 748.1,370.2 748.4,370.7 748.7,371.2 749.0,371.6 749.3,372.1 749.6,372.6 749.9,373.1 750.2,373.6 750.5,374.1 750.8,374.6 751.1,375.1 751.4,375.6 751.7,376.1 752.0,376.5 752.3,377.0 752.6,377.5 752.9,378.0 753.2,378.5 753.5,378.8 753.8,379.2 754.1,379.5 754.4,379.8 754.7,380.2 755.0,380.5 755.3,380.8 755.6,381.2 755.9,381.5 756.2,381.8 756.5,382.2 756.8,382.5 757.1,382.8 757.4,383.2 757.7,383.5 758.0,383.8 758.3,384.2 758.6,384.5 758.9,384.8 759.2,385.2 759.5,385.5 759.8,385.8 760.1,386.2 760.4,386.5 760.6,386.8 760.9,387.2 761.2,387.5 761.5,387.8 761.8,388.2 762.1,388.5 762.4,388.8 762.7,389.2 763.0,389.5 763.3,389.8 763.6,390.2 763.9,390.5 764.2,390.8 764.5,391.2 764.8,391.5 765.1,391.8 765.4,392.2 765.7,392.5 766.0,392.8 766.3,393.2 766.6,393.5 766.9,393.8 767.2,394.2 767.5,394.5 767.8,394.8 768.1,395.1 768.4,395.4 768.7,395.7 769.0,395.9 769.3,396.2 769.6,396.5 769.9,396.8 770.2,397.1 770.5,397.4 770.8,397.7 771.1,398.0 771.4,398.3 771.7,398.6 772.0,398.8 772.3,399.1 772.6,399.4 772.9,399.7 773.2,400.0 773.5,400.3 773.8,400.6 774.1,400.9 774.4,401.2 774.6,401.4 774.9,401.7 775.2,402.0 775.5,402.3 775.8,402.6 776.1,402.9 776.4,403.2 776.7,403.5 777.0,403.8 777.3,404.0 777.6,404.3 777.9,404.6 778.2,404.9 778.5,405.2 778.8,405.5 779.1,405.8 779.4,406.1 779.7,406.4 780.0,406.7 780.3,406.9 780.6,407.2 780.9,407.5 781.2,407.8 781.5,408.1 781.8,408.4 782.1,408.6 782.4,408.9 782.7,409.1 783.0,409.4 783.3,409.6 783.6,409.9 783.9,410.1 784.2,410.4 784.5,410.6 784.8,410.9 785.0,411.2 785.3,411.4 785.6,411.7 785.9,411.9 786.2,412.2 786.5,412.4 786.8,412.7 787.1,412.9 787.4,413.2 787.7,413.4 788.0,413.7 788.3,414.0 788.6,414.2 788.9,414.5 789.2,414.7 789.5,415.0 789.8,415.2 790.1,415.5 790.4,415.7 790.7,416.0 791.0,416.2 791.3,416.5 791.6,416.7 791.8,417.0 792.1,417.3 792.4,417.5 792.7,417.8 793.0,418.0 793.3,418.3 793.6,418.5 793.9,418.8 794.2,419.0 794.5,419.3 794.8,419.5 795.1,419.8 795.4,420.1 795.7,420.3 796.0,420.6 796.3,420.9 796.6,421.2 796.9,421.4 797.2,421.7 797.5,422.0 797.8,422.3 798.1,422.5 798.4,422.8 798.7,423.1 799.0,423.4 799.3,423.6 799.6,423.9 799.9,424.2 800.2,424.5 800.5,424.7 800.8,425.0 801.1,425.3 801.4,425.6 801.7,425.8 802.0,426.1 802.3,426.4 802.6,426.7 802.9,426.9 803.2,427.2 803.5,427.5 803.8,427.8 804.1,428.0 804.4,428.3 804.7,428.6 805.0,428.9 805.3,429.1 805.6,429.4 805.9,429.7 806.2,430.0 806.5,430.2 806.8,430.5 807.1,430.7 807.4,431.0 807.7,431.2 808.0,431.4 808.3,431.7 808.6,431.9 808.9,432.1 809.2,432.4 809.5,432.6 809.8,432.8 810.0,433.1 810.3,433.3 810.6,433.5 810.9,433.8 811.2,434.0 811.5,434.2 811.8,434.5 812.1,434.7 812.4,434.9 812.7,435.2 813.0,435.4" fill="none" stroke="none" marker-start="url(#mt)" marker-mid="url(#mt)" marker-end="url(#mt)"/>
<g fill="none" stroke-linecap="round">
<line x1="169.3" y1="76.2" x2="690" y2="76.2" stroke="#00f" stroke-width="4.4" stroke-dasharray="1.8 21.55"/>
<line x1="169.3" y1="131.3" x2="690" y2="131.3" stroke="#f00" stroke-width="4.4" stroke-dasharray="1.8 21.55"/>
<line x1="166.9" y1="228.4" x2="690" y2="228.4" stroke="#000" stroke-width="3.4" stroke-dasharray="3.4 19.95"/>
</g>
<g stroke="#000" fill="none" stroke-linecap="butt">
<path d="M149.00 20.50 H890.10 V568.20 H149.00 Z" stroke-width="7.0" stroke-linejoin="miter"/>
</g>
<g stroke="#000" stroke-width="6.3" stroke-linecap="round">
<line x1="137" y1="539.45" x2="149.00" y2="539.45"/>
<line x1="137" y1="481.80" x2="149.00" y2="481.80"/>
<line x1="137" y1="424.15" x2="149.00" y2="424.15"/>
<line x1="137" y1="366.50" x2="149.00" y2="366.50"/>
<line x1="137" y1="308.85" x2="149.00" y2="308.85"/>
<line x1="137" y1="251.20" x2="149.00" y2="251.20"/>
<line x1="137" y1="193.55" x2="149.00" y2="193.55"/>
<line x1="137" y1="135.90" x2="149.00" y2="135.90"/>
<line x1="137" y1="78.25" x2="149.00" y2="78.25"/>
<line x1="137" y1="20.50" x2="149.00" y2="20.50"/>
<line x1="142.5" y1="568.20" x2="149.00" y2="568.20" stroke-width="5.6"/>
<line x1="142.5" y1="510.63" x2="149.00" y2="510.63" stroke-width="5.6"/>
<line x1="142.5" y1="452.98" x2="149.00" y2="452.98" stroke-width="5.6"/>
<line x1="142.5" y1="395.33" x2="149.00" y2="395.33" stroke-width="5.6"/>
<line x1="142.5" y1="337.68" x2="149.00" y2="337.68" stroke-width="5.6"/>
<line x1="142.5" y1="280.03" x2="149.00" y2="280.03" stroke-width="5.6"/>
<line x1="142.5" y1="222.38" x2="149.00" y2="222.38" stroke-width="5.6"/>
<line x1="142.5" y1="164.73" x2="149.00" y2="164.73" stroke-width="5.6"/>
<line x1="142.5" y1="107.08" x2="149.00" y2="107.08" stroke-width="5.6"/>
<line x1="142.5" y1="49.43" x2="149.00" y2="49.43" stroke-width="5.6"/>
<line x1="222.60" y1="568.20" x2="222.60" y2="579.3"/>
<line x1="371.03" y1="568.20" x2="371.03" y2="579.3"/>
<line x1="519.46" y1="568.20" x2="519.46" y2="579.3"/>
<line x1="667.89" y1="568.20" x2="667.89" y2="579.3"/>
<line x1="816.32" y1="568.20" x2="816.32" y2="579.3"/>
<line x1="149.00" y1="568.20" x2="149.00" y2="575" stroke-width="5.6"/>
<line x1="296.81" y1="568.20" x2="296.81" y2="575" stroke-width="5.6"/>
<line x1="445.25" y1="568.20" x2="445.25" y2="575" stroke-width="5.6"/>
<line x1="593.67" y1="568.20" x2="593.67" y2="575" stroke-width="5.6"/>
<line x1="742.11" y1="568.20" x2="742.11" y2="575" stroke-width="5.6"/>
<line x1="890.10" y1="568.20" x2="890.10" y2="575" stroke-width="5.6"/>
</g>
<text transform="translate(128.60 551.55) scale(0.9172 1)" font-size="45.90" text-anchor="end">0</text>
<text transform="translate(128.60 493.90) scale(0.9172 1)" font-size="45.90" text-anchor="end">50</text>
<text transform="translate(128.60 436.25) scale(0.9172 1)" font-size="45.90" text-anchor="end">100</text>
<text transform="translate(128.60 378.60) scale(0.9172 1)" font-size="45.90" text-anchor="end">150</text>
<text transform="translate(128.60 320.95) scale(0.9172 1)" font-size="45.90" text-anchor="end">200</text>
<text transform="translate(128.60 263.30) scale(0.9172 1)" font-size="45.90" text-anchor="end">250</text>
<text transform="translate(128.60 205.65) scale(0.9172 1)" font-size="45.90" text-anchor="end">300</text>
<text transform="translate(128.60 148.00) scale(0.9172 1)" font-size="45.90" text-anchor="end">350</text>
<text transform="translate(128.60 90.35) scale(0.9172 1)" font-size="45.90" text-anchor="end">400</text>
<text transform="translate(128.60 32.60) scale(0.9172 1)" font-size="45.90" text-anchor="end">450</text>
<text transform="translate(222.90 620.40) scale(0.9172 1)" font-size="45.90" text-anchor="middle">0</text>
<text transform="translate(371.33 620.40) scale(0.9172 1)" font-size="45.90" text-anchor="middle">500</text>
<text transform="translate(519.76 620.40) scale(0.9172 1)" font-size="45.90" text-anchor="middle">1000</text>
<text transform="translate(668.19 620.40) scale(0.9172 1)" font-size="45.90" text-anchor="middle">1500</text>
<text transform="translate(816.62 620.40) scale(0.9172 1)" font-size="45.90" text-anchor="middle">2000</text>
<text transform="translate(518.90 655.90) scale(1.1075 1)" font-size="40.00" text-anchor="middle">Time (s)</text>
<text transform="translate(39.8 383.3) rotate(-90) scale(0.876 1)" font-size="46">T <tspan dx="1.7">(</tspan><tspan dy="-5.5" dx="1.2">°</tspan><tspan dy="5.5" dx="4.6">C</tspan><tspan dx="1.0">)</tspan></text>
<rect x="223.2" y="297.3" width="14.4" height="14.4" fill="#fff" stroke="#000" stroke-width="2"/>
<circle cx="230.9" cy="359.1" r="7.9" fill="#fff" stroke="#f00" stroke-width="2"/>
<path d="M231 403 L240.3 419 L221.7 419 Z" fill="#fff" stroke="#00f" stroke-width="2"/>
<text transform="translate(273.30 313.60) scale(1.0918 1)" font-size="40.30" text-anchor="start" word-spacing="1.4">700 W, 5 min</text>
<text transform="translate(273.30 367.50) scale(1.0918 1)" font-size="40.30" text-anchor="start" word-spacing="1.4">1050 W, 5 min</text>
<text transform="translate(273.30 421.10) scale(1.0918 1)" font-size="40.30" text-anchor="start" word-spacing="1.4">1400 W, 5 min</text>
</svg></body></html>
